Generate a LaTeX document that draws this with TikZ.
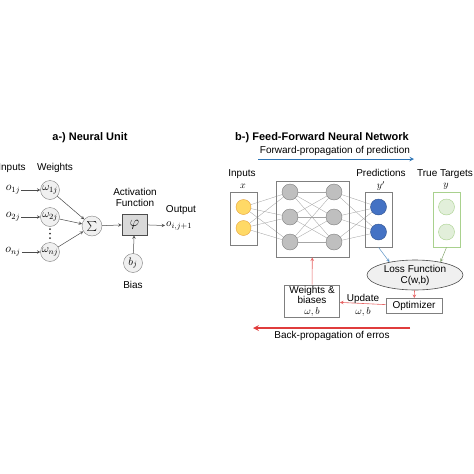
\documentclass[tikz,border=0pt]{standalone}
\usepackage{fontspec}
\setmainfont{Liberation Sans}
\usetikzlibrary{shapes.geometric,positioning,backgrounds}
\definecolor{boxgray}{HTML}{7F7F7F}
\definecolor{unitgray}{HTML}{BFBFBF}
\definecolor{inyellow}{HTML}{FFD966}
\definecolor{inorange}{HTML}{E6A23C}
\definecolor{predblue}{HTML}{4472C4}
\definecolor{predborder}{HTML}{2F528F}
\definecolor{tgtgreen}{HTML}{E2EFDA}
\definecolor{tgtborder}{HTML}{A9D18E}
\definecolor{errred}{HTML}{E03C3C}
\definecolor{fwdblue}{HTML}{2E75B6}
\tikzset{
  lbl/.style={font=\fontsize{10}{12}\selectfont, inner sep=1pt},
  mlbl/.style={font=\fontsize{12}{14}\selectfont, inner sep=1pt},
  ttl/.style={font=\bfseries\fontsize{11}{13}\selectfont},
  wcirc/.style={circle, draw=boxgray, fill=gray!12, minimum size=19pt, inner sep=0pt, font=\fontsize{11}{12}\selectfont},
  neuron/.style={circle, draw=boxgray, fill=unitgray, minimum size=16pt, inner sep=0pt},
  layerbox/.style={draw=boxgray, line width=0.8pt, inner sep=0pt},
  arr/.style={-stealth, draw=black!70, line width=0.5pt},
  link/.style={draw=gray!70, line width=0.35pt},
  redarr/.style={-stealth, draw=errred!80, line width=0.6pt},
}
\begin{document}
\begin{tikzpicture}[x=1pt,y=-1pt]
  \useasboundingbox (0,0) rectangle (474,474);

  % a-) the single neural unit
  \node[ttl] (titleA) at (90,138) {a-) Neural Unit};
  \node[lbl] (inputsA) at (12,168) {Inputs};
  \node[lbl] (weights) at (55,168) {Weights};
  \foreach \k/\y in {1/190, 2/217, n/252} {
    \node[mlbl] (o\k) at (13,\y) {$o_{\k j}$};
    \node[wcirc] (w\k) at (50,\y) {$\omega_{\k j}$};
    \draw[arr] (o\k) -- (w\k); % input into its weight
  }
  \foreach \y in {229,233.5,238} \fill[black!80] (50,\y) circle (1pt); % vertical dots
  \node[circle, draw=boxgray, fill=gray!12, minimum size=20pt, inner sep=0pt, font=\fontsize{14}{14}\selectfont] (sum) at (92,226) {$\sum$};
  \foreach \k in {1,2,n} \draw[arr] (w\k) -- (sum);
  \node[draw=black!70, line width=0.8pt, fill=gray!30, minimum width=25pt, minimum height=21pt, font=\fontsize{14}{14}\selectfont] (phi) at (134.5,224.5) {$\varphi$};
  \node[lbl, align=center] (actfn) at (135,197) {Activation\\[-1pt]Function};
  \draw[arr] (sum) -- (phi);
  \node[lbl] (outlbl) at (181,210) {Output};
  \node[lbl, anchor=west, font=\fontsize{11}{12}\selectfont] (out) at (165,226) {$o_{i,j+1}$};
  \draw[arr] (phi) -- (out);
  \node[wcirc] (bias) at (133,263) {$b_j$};
  \node[lbl] (biaslbl) at (133,285) {Bias};
  \draw[arr] (bias) -- (phi);

  % b-) feed-forward network
  \node[ttl] (titleB) at (322,138) {b-) Feed-Forward Neural Network};
  \node[lbl] (fwdlbl) at (335,151) {Forward-propagation of prediction};
  \coordinate (fwdL) at (258,159);
  \coordinate (fwdR) at (414,159);
  \draw[-stealth, fwdblue, line width=1pt] (fwdL) -- (fwdR);

  \node[layerbox, minimum width=27pt, minimum height=53pt] (inbox) at (243.5,218.5) {};
  \node[layerbox, minimum width=73pt, minimum height=76pt] (hidbox) at (312.5,219) {};
  \node[layerbox, minimum width=27pt, minimum height=55pt] (predbox) at (378.5,219.5) {};
  \node[draw=tgtborder, line width=0.8pt, minimum width=27pt, minimum height=55pt] (tgtbox) at (446.5,219.5) {};

  \node[lbl] (inlbl) at (242,174) {Inputs};
  \node[lbl] (xlbl) at (243,186) {$x$};
  \node[lbl] (predlbl) at (381,173) {Predictions};
  \node[lbl] (yplbl) at (381,186) {$y'$};
  \node[lbl] (tgtlbl) at (445,174) {True Targets};
  \node[lbl] (ylbl) at (446,186) {$y$};

  \foreach \i/\y in {1/207, 2/228} {
    \node[circle, draw=inorange, fill=inyellow, minimum size=15pt] (x\i) at (243.5,\y) {};
  }
  \foreach \j/\y in {1/192, 2/217, 3/242} {
    \node[neuron] (h\j) at (290,\y) {};
    \node[neuron] (g\j) at (334,\y) {};
  }
  \foreach \i/\y in {1/207, 2/232} {
    \node[circle, draw=predborder, fill=predblue, minimum size=16pt] (p\i) at (378.5,\y) {};
    \node[circle, draw=tgtborder, fill=tgtgreen, minimum size=16pt] (t\i) at (446.5,\y) {};
  }
  \begin{pgfonlayer}{background} % links behind the units
  \foreach \i in {1,2} \foreach \j in {1,2,3} {
    \draw[link] (x\i) -- (h\j);
    \draw[link] (g\j) -- (p\i);
  }
  \foreach \i in {1,2,3} \foreach \j in {1,2,3} \draw[link] (h\i) -- (g\j);
  \end{pgfonlayer}

  % loss, optimizer and the update loop
  \node[ellipse, draw=black!70, fill=gray!12, line width=0.6pt, minimum width=96pt, minimum height=30pt, inner sep=0pt, align=center, font=\fontsize{10}{11}\selectfont] (loss) at (415,275) {Loss Function\\C(w,b)};
  \draw[-stealth, fwdblue!80, line width=0.5pt] (predbox.south) -- (loss.153);
  \draw[-stealth, tgtborder!80!black, line width=0.5pt] (tgtbox.south) -- (loss.27);
  \node[layerbox, lbl, minimum width=56pt, minimum height=15pt] (opt) at (414,306) {Optimizer};
  \node[layerbox, lbl, align=center, minimum width=55pt, minimum height=32pt, font=\fontsize{10}{10.5}\selectfont] (wb) at (312,301) {Weights \&\\biases\\$\omega, b$};
  \draw[redarr] (loss) -- (opt);
  \draw[redarr] (opt) -- (wb);
  \draw[redarr] (wb) -- (hidbox);
  \node[lbl] (updlbl) at (363,299) {Update};
  \node[lbl] (updvar) at (363,312) {$\omega, b$};

  \coordinate (backR) at (410,328);
  \coordinate (backL) at (253,328);
  \draw[-stealth, errred, line width=1.6pt] (backR) -- (backL);
  \node[lbl] (backlbl) at (332,336) {Back-propagation of erros};
\end{tikzpicture}
\end{document}
